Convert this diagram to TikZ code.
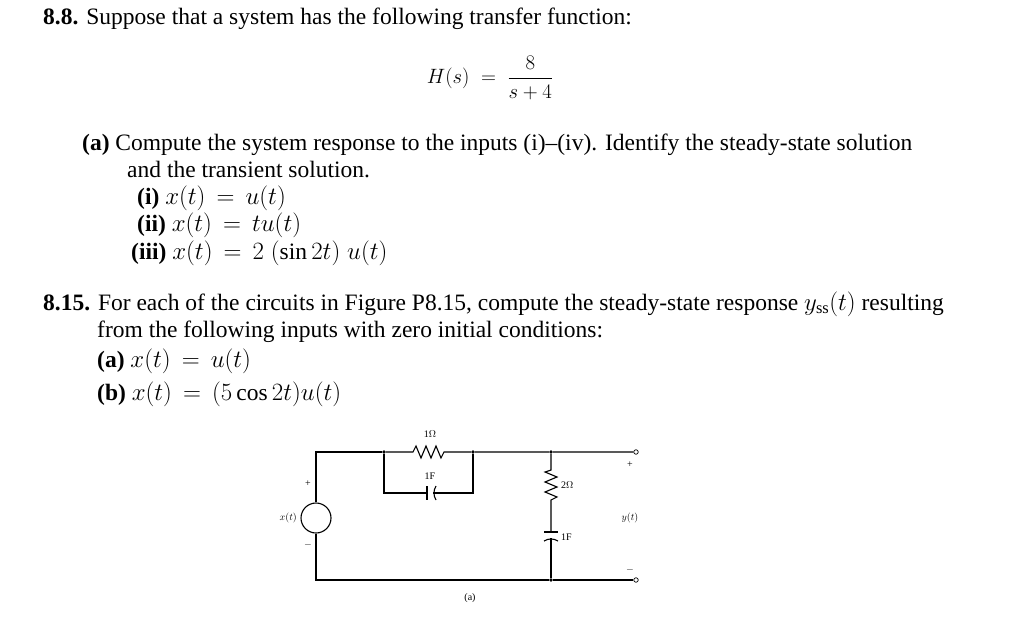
\documentclass[tikz,border=0pt]{standalone}
\usepackage{amsmath}
\usepackage{fontspec}
\setmainfont{Liberation Serif}
\begin{document}
\begin{tikzpicture}[x=1pt,y=-1pt,
  txt/.style={anchor=base west,font=\fontsize{23.5}{26}\selectfont,inner sep=0},
  lbl/.style={font=\fontsize{10}{12}\selectfont,inner sep=1pt},
  wire/.style={line width=1.1pt},
  dot/.style={circle,fill,inner sep=1.4pt}]
\useasboundingbox (0,0) rectangle (1031,616);
\node[txt] (l1) at (43,24) {\textbf{8.8.} Suppose that a system has the following transfer function:};
\node[font=\fontsize{22}{24}\selectfont,inner sep=0] (eq) at (490,78) {$H(s)\;=\;\dfrac{8}{s+4}$};
\node[txt] (l2) at (82,150) {\textbf{(a)} Compute the system response to the inputs (i)–(iv). Identify the steady-state solution};
\node[txt] (l3) at (127,177) {and the transient solution.};
\node[txt] (l4) at (137,204) {\textbf{(i)} $x(t)\,=\,u(t)$};
\node[txt] (l5) at (137,231) {\textbf{(ii)} $x(t)\,=\,tu(t)$};
\node[txt] (l6) at (131,259) {\textbf{(iii)} $x(t)\,=\,2\;(\sin 2t)\;u(t)$};
\node[txt] (l7) at (43,310) {\textbf{8.15.} For each of the circuits in Figure P8.15, compute the steady-state response $y_{\mathrm{ss}}(t)$ resulting};
\node[txt] (l8) at (97,337) {from the following inputs with zero initial conditions:};
\node[txt] (l9) at (97,367) {\textbf{(a)} $x(t)\,=\,u(t)$};
\node[txt] (l10) at (97,400) {\textbf{(b)} $x(t)\,=\,(5\cos 2t)u(t)$};
% circuit
\coordinate (tl) at (316,452); \coordinate (bl) at (316,580);
\node[draw,circle,wire,minimum size=30pt,inner sep=0] (src) at (316,518) {};
\node[dot] (n1) at (384,452) {};
\node[dot] (n2) at (473,452) {};
\node[dot] (n3) at (551,452) {};
\node[dot] (n4) at (551,580) {};
\node[draw,circle,inner sep=1.6pt,line width=0.7pt] (tp) at (636,452) {};
\node[draw,circle,inner sep=1.6pt,line width=0.7pt] (tm) at (636,580) {};
\draw[wire] (src.north) -- (tl) -- (n1);
\draw[wire] (src.south) -- (bl) -- (n4) -- (tm.west);
\draw[wire] (n1) -- (413,452) -- (416,446) -- (421,458) -- (426,446) -- (431,458) -- (436,446) -- (441,458) -- (444,452) -- (n2) -- (n3) -- (tp.west);
\draw[wire] (n1) -- (384,493) -- (427,493) (427,486) -- (427,500);
\draw[wire] (436,486) to[bend right=30] (436,500);
\draw[wire] (433,493) -- (473,493) -- (n2);
\draw[wire] (n3) -- (551,470) -- (545,472) -- (557,477) -- (545,482) -- (557,487) -- (545,492) -- (557,497) -- (551,500) -- (551,532);
\draw[wire] (544,532) -- (558,532);
\draw[wire] (544,541) to[bend left=30] (558,541);
\draw[wire] (551,538) -- (n4);
\node[lbl] (r1) at (430,434) {1$\Omega$};
\node[lbl] (c1) at (430,476) {1F};
\node[lbl,anchor=west] (r2) at (560,485) {2$\Omega$};
\node[lbl,anchor=west] (c2) at (560,537) {1F};
\node[lbl,anchor=east] (xt) at (298,518) {$x(t)$};
\node[lbl] (yt) at (630,518) {$y(t)$};
\node[lbl] (sp) at (308,484) {+};
\node[lbl] (sm) at (308,545) {$-$};
\node[lbl] (op) at (630,465) {+};
\node[lbl] (om) at (630,570) {$-$};
\node[lbl] (cap) at (470,598) {(a)};
\end{tikzpicture}
\end{document}
